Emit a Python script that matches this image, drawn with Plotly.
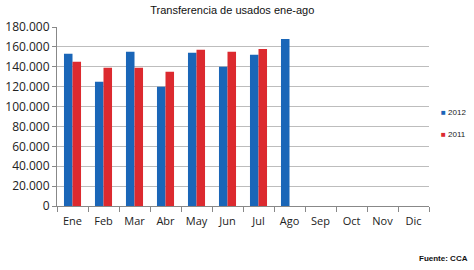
import plotly.graph_objects as go

months = ["Ene", "Feb", "Mar", "Abr", "May", "Jun", "Jul", "Ago", "Sep", "Oct", "Nov", "Dic"]
vals_2012 = [153000, 125000, 155000, 120000, 154000, 140000, 152000, 168000, None, None, None, None]
vals_2011 = [145000, 139000, 139000, 135000, 157000, 155000, 158000, None, None, None, None, None]
y_ticks = [0, 20000, 40000, 60000, 80000, 100000, 120000, 140000, 160000, 180000]
series = [("2012", vals_2012, "#1a66b8"), ("2011", vals_2011, "#dc2a2f")]

fig = go.Figure()
for name, vals, col in series:
    fig.add_trace(go.Bar(x=months, y=vals, name=name, marker_color=col,
                         marker_line_width=0, showlegend=False))

# compact legend drawn as annotations (small square + label)
for i, (name, vals, col) in enumerate(series):
    fig.add_annotation(
        text=f"<span style='color:{col}'>■</span> {name}",
        xref="paper", yref="paper", x=1.028, y=0.525 - i * 0.123,
        xanchor="left", yanchor="middle", showarrow=False,
        font=dict(size=8, color="#222", family="Liberation Sans, Arial"))

fig.update_layout(
    width=474, height=270,
    margin=dict(l=57, r=45, t=27, b=64, autoexpand=False),
    paper_bgcolor="white", plot_bgcolor="white",
    separators=",.",
    barmode="group", bargap=0.45, bargroupgap=0,
    font=dict(family="Liberation Sans, Arial, sans-serif", color="#222"),
    title=dict(text="Transferencia de usados ene-ago", x=0.49, xanchor="center",
               y=0.975, yanchor="top", font=dict(size=11, color="#111")),
    showlegend=False,
)
fig.update_xaxes(categoryorder="array", categoryarray=months, automargin=False,
                 tickson="boundaries", ticks="outside", ticklen=5, tickcolor="#888",
                 showline=True, linecolor="#888", linewidth=1, tickangle=0,
                 ticklabelstandoff=5,
                 tickfont=dict(size=11, family="Open Sans, sans-serif", color="#222"),
                 showgrid=False)
fig.update_yaxes(range=[0, 180000], tickvals=y_ticks, tickformat=",d", automargin=False,
                 ticks="outside", ticklen=4, tickcolor="#888",
                 showline=True, linecolor="#888", linewidth=1,
                 gridcolor="#bdbdbd", gridwidth=1,
                 tickfont=dict(size=12, family="Open Sans, sans-serif", color="#222"),
                 zeroline=False)
fig.add_annotation(text="<b>Fuente: CCA</b>", xref="paper", yref="paper",
                   x=1.11, y=-0.295, xanchor="right", yanchor="middle",
                   showarrow=False, font=dict(size=8, color="#111", family="Liberation Sans, Arial"))
fig.write_html("out.html")
